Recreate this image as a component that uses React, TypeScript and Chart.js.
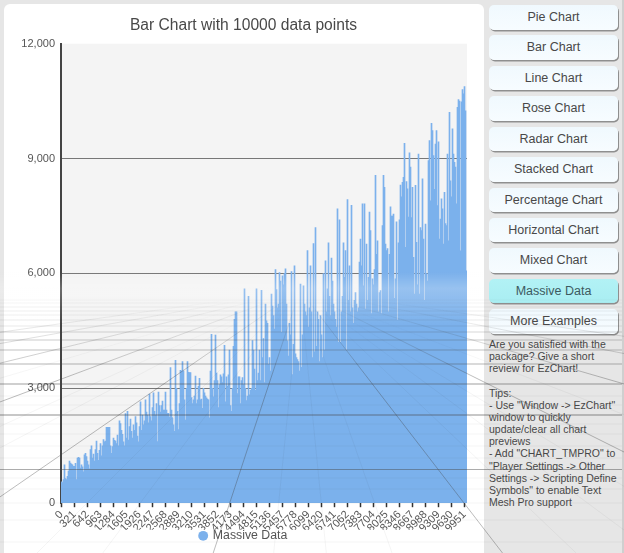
import React, { useEffect, useRef } from "react";
import { Chart, registerables } from "chart.js";

Chart.register(...registerables);

const tickLabels = ["0","321","642","963","1284","1605","1926","2247","2568","2889","3210","3531","3852","4173","4494","4815","5136","5457","5778","6099","6420","6741","7062","7383","7704","8025","8346","8667","8988","9309","9630","9951"];
const yTicks = [0, 3000, 6000, 9000, 12000];

const valuesA = [
  560,540,620,1000,640,620,700,840,1100,1050,1020,1000,960,960,1040,620,1180,1200,1180,920,
  1000,950,820,1260,1300,1220,1100,1000,900,1400,1500,1180,1280,1100,1400,1620,1300,1120,1380,1560,
];
const valuesB = [
  1240,1500,1660,1600,1620,1980,1980,1980,1980,1500,
  1300,1480,1700,1640,1620,1560,1780,1500,2150,2080,
  1900,1800,1600,1500,2340,1700,2400,1650,2000,2200,
  1880,1700,2050,1900,2260,2100,1750,1600,2000,2650,
  1900,2300,2050,2150,2700,2380,2300,2100,2850,2260,
  2150,2500,2880,2400,2300,2600,1610,2900,2550,2380,
];
const valuesC = [
  2550,2670,2430,2430,2900,2430,2350,2350,2250,3540,
  2430,2230,2050,1880,3730,3000,2400,1920,2600,3470,
  3450,3700,3450,2700,2170,3000,3700,3420,3410,3410,
  2760,2600,2700,2800,3320,2600,2700,3050,3260,2700,
  2720,2480,3000,2880,2800,2750,2720,2700,2230,3450,
  4410,3000,2780,3200,4390,3400,3200,2500,3100,3350,
  3300,3150,3380,4120,2650,3300,3050,3350,4000,2550,
  2400,3000,4100,4800,5000,5000,2860,3300,3300,2600,
  3200,3280,3100,5600,3000,2680,2800,5400,2830,2950,
  3000,4250,4000,3500,2950,5600,3200,3400,4000,3200,
];
const valuesD = [
  5560,3800,4300,3150,5200,4760,4700,3630,3800,3450,
  5460,5150,4900,4550,6100,5580,5100,5200,6020,5800,
  4460,5940,5700,6000,6120,5200,4240,3840,4700,4400,
  6050,3360,4150,6200,3900,3800,3750,3700,3450,5720,
  3550,4400,5680,5200,5000,4900,6600,4600,5100,6200,
  5000,3800,6780,3950,7200,4100,5000,4800,3700,4900,
  4400,3800,6000,4000,6330,5000,5600,6800,5400,4900,
  6400,5800,5200,5000,4800,4600,7690,4200,7400,4200,
  5000,5400,6800,5900,6600,4000,7930,5300,6200,5000,
  7780,5100,4700,5300,5500,5200,5000,5100,6300,6900,
];
const valuesE = [
  6200,7820,5680,7820,5070,6770,5300,5900,7600,7120,
  4950,5860,5700,6100,8560,6500,6850,5000,5500,5550,
  4950,7250,8560,8250,6770,6600,6650,5000,6500,7740,
  7500,7500,7550,5350,5860,7350,4780,6800,7400,8310,
  8000,8380,8510,9400,6680,8400,8210,7470,9150,
];
const valuesF = [
  8780,7460,8250,6420,5460,8300,6810,5700,9120,5460,
  7200,7120,8470,6900,5300,7290,6000,5800,8950,9470,
  7900,9920,9730,9080,8200,9380,9730,7770,9440,6900,
  7420,7950,7690,6770,8120,7300,7250,9120,6850,10210,
  8420,8000,9780,9120,8900,8780,7820,10340,10540,10500,
  6590,10480,10800,10690,10880,10250,6070,
];
const seriesValues = [...valuesA, ...valuesB, ...valuesC, ...valuesD, ...valuesE, ...valuesF];
const categories = seriesValues.map((_, i) => String(Math.round((i * 321) / 13)));

const buttonLabels = ["Pie Chart","Bar Chart","Line Chart","Rose Chart","Radar Chart","Stacked Chart","Percentage Chart","Horizontal Chart","Mixed Chart","Massive Data","More Examples"];
const tipLines = [
  "Are you satisfied with the","package? Give a short","review for EzChart!","\u00a0","Tips:",
  '- Use "Window -> EzChart"',"window to quickly","update/clear all chart","previews",
  '- Add "CHART_TMPRO" to','"Player Settings -> Other',"Settings -> Scripting Define",'Symbols" to enable Text',"Mesh Pro support",
];

const FONT = '"Liberation Sans", Arial, sans-serif';
const horizon = { x: 300, y: 290 };
const floorMajor = [[469.5,1,0.45],[415,2,0.3],[384,2,0.26],[364,2,0.2],[350,2,0.17],[340,2,0.14],[332,2,0.11],[326,1,0.12],[320,1,0.1],[315,1,0.09],[311,1,0.08],[307,1,0.07],[303,1,0.06],[300,1,0.05]];
const floorMinor = [542,520,503,489,478,458,446,434,424,405,396];
const raysMajor = [-7.1,-5.6,-4.1,-2.68,-1.45,-0.33,0.77,2.0,3.45,5.1,7];
const raysMinor = [-3.4,-2.2,-1.9,-1.0,-0.75,-0.1,0.1,0.35,1.05,1.35,1.65,2.6];

const plotBg = {
  id: "plotBg",
  beforeDraw(chart: any) {
    const { ctx, chartArea: a } = chart;
    ctx.save();
    ctx.fillStyle = "#f4f4f4";
    ctx.fillRect(a.left, a.top, a.right - a.left, a.bottom - a.top);
    ctx.restore();
  },
};

export default function App() {
  const ref = useRef<HTMLCanvasElement>(null);
  useEffect(() => {
    const chart = new Chart(ref.current as HTMLCanvasElement, {
      type: "bar",
      data: {
        labels: categories,
        datasets: [{
          label: "Massive Data",
          data: seriesValues,
          backgroundColor: "#7cb1ec",
          borderWidth: 0,
          barPercentage: 1,
          categoryPercentage: 1,
        }],
      },
      options: {
        animation: false,
        responsive: false,
        layout: { padding: { left: 20, right: 21, top: 0, bottom: 1 } },
        plugins: {
          tooltip: { enabled: false },
          title: {
            display: true,
            text: "Bar Chart with 10000 data points",
            color: "#484848",
            font: { family: FONT, size: 15.6, weight: "normal" },
            padding: { top: 16, bottom: 9 },
          },
          legend: {
            position: "bottom",
            labels: {
              usePointStyle: true,
              pointStyle: "circle",
              boxWidth: 7,
              boxHeight: 7,
              color: "#555",
              padding: 0,
              font: { family: FONT, size: 12.3 },
            },
          },
        },
        scales: {
          x: {
            type: "category",
            afterFit(s: any) { s.height = 26.5; },
            afterBuildTicks(s: any) { s.ticks = s.ticks.filter((t: any) => t.value % 13 === 0); },
            border: { display: false },
            grid: { drawOnChartArea: false, offset: false, tickLength: 4, tickColor: "#333", tickWidth: 1.5 },
            ticks: {
              autoSkip: false,
              maxRotation: 45,
              minRotation: 45,
              padding: 1,
              color: "#555",
              font: { family: FONT, size: 11 },
              callback: (_v: any, i: number) => tickLabels[i],
            },
          },
          y: {
            min: 0,
            max: 12000,
            afterFit(s: any) { s.width = 41; },
            afterBuildTicks(s: any) { s.ticks = yTicks.map((value) => ({ value })); },
            border: { display: true, color: "#444", width: 2 },
            grid: {
              drawTicks: false,
              color: (c: any) => (c.tick && c.tick.value > 0 && c.tick.value < 12000 ? "#777" : "transparent"),
            },
            ticks: {
              padding: 6,
              color: "#555",
              font: { family: FONT, size: 11 },
              callback: (v: any) => Number(v).toLocaleString("en-US"),
            },
          },
        },
      } as any,
      plugins: [plotBg],
    });
    return () => chart.destroy();
  }, []);

  return (
    <div style={{ position: "fixed", left: 0, top: 0, width: 624, height: 553, overflow: "hidden", background: "#e6e6e6", fontFamily: FONT }}>
      <div style={{ position: "absolute", left: 4, top: 4, width: 480, height: 560, background: "#fff", borderRadius: 6 }} />
      <canvas ref={ref} width={488} height={553} style={{ position: "absolute", left: 0, top: 0, width: 488, height: 553 }} />
      <div style={{ position: "absolute", left: 0, top: 272, width: 484, height: 54, background: "linear-gradient(to bottom, rgba(255,255,255,0), rgba(255,255,255,0.22) 30%, rgba(255,255,255,0))" }} />
      {buttonLabels.map((label, i) => {
        const active = label === "Massive Data";
        return (
          <div key={label} style={{
            position: "absolute", left: 489, top: 5 + i * 30.42, width: 129, height: 24.5, boxSizing: "border-box",
            borderRadius: 5, background: active ? "linear-gradient(#b2f2f5,#a9eef2)" : "linear-gradient(#f0f9fe,#f7fcff)",
            boxShadow: "1px 1.5px 0 #8f8f8f", color: active ? "#3d5a5f" : "#484848", fontSize: 12.5,
            lineHeight: "24.5px", textAlign: "center", whiteSpace: "nowrap",
          }}>{label}</div>
        );
      })}
      <div style={{ position: "absolute", left: 489, top: 338, width: 132, color: "#484848", fontSize: 10.5, lineHeight: "12.15px", whiteSpace: "nowrap" }}>
        {tipLines.map((t, i) => <div key={i}>{t}</div>)}
      </div>
      <div style={{ position: "absolute", left: 622, top: 0, width: 2, height: 553, background: "#cfcfcf" }} />
      <svg width={624} height={553} style={{ position: "absolute", left: 0, top: 0, pointerEvents: "none" }}>
        <defs>
          <linearGradient id="rayFade" gradientUnits="userSpaceOnUse" x1={0} y1={300} x2={0} y2={380}>
            <stop offset="0" stopColor="#fff" stopOpacity={0} />
            <stop offset="1" stopColor="#fff" stopOpacity={1} />
          </linearGradient>
          <mask id="rayMask" maskUnits="userSpaceOnUse" x={0} y={0} width={624} height={553}>
            <rect x={0} y={0} width={624} height={553} fill="url(#rayFade)" />
          </mask>
        </defs>
        {floorMinor.map((y) => <line key={"m" + y} x1={0} x2={622} y1={y} y2={y} stroke="rgba(60,60,60,0.06)" strokeWidth={1} />)}
        {floorMajor.map(([y, w, a]) => <line key={"h" + y} x1={0} x2={622} y1={y} y2={y} stroke={`rgba(70,70,70,${a})`} strokeWidth={w} />)}
        <g mask="url(#rayMask)">
          {raysMinor.map((k) => <line key={"r" + k} x1={horizon.x} y1={horizon.y} x2={horizon.x + k * 263} y2={553} stroke="rgba(60,60,60,0.05)" strokeWidth={1} />)}
          {raysMajor.map((k) => <line key={"k" + k} x1={horizon.x} y1={horizon.y} x2={horizon.x + k * 263} y2={553} stroke="rgba(70,70,70,0.36)" strokeWidth={1} />)}
        </g>
      </svg>
    </div>
  );
}
